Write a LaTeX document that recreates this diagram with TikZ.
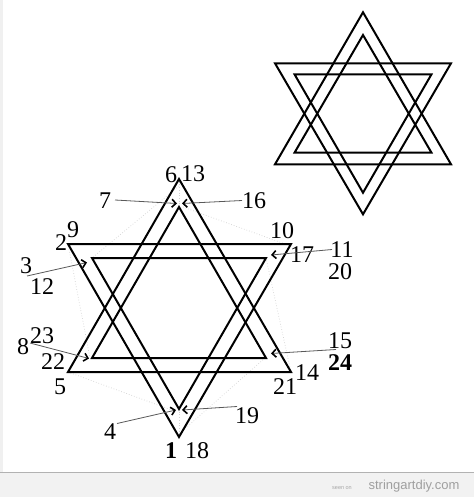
\documentclass[tikz,border=0pt]{standalone}
\usepackage{fontspec}
\setmainfont{Liberation Serif}
\newfontfamily\webfont{Liberation Sans}
\usetikzlibrary{arrows.meta}
\begin{document}
\begin{tikzpicture}[x=1pt,y=-1pt,
  starline/.style={line width=2pt,line join=miter},
  guide/.style={gray!35,dotted,line width=0.7pt},
  lbl/.style={inner sep=0pt,font=\fontsize{24}{24}\selectfont},
  pointer/.style={gray!70!black,line width=0.8pt,
    -{Straight Barb[color=black,length=4pt,width=8pt,line width=1.6pt]}}]
\useasboundingbox (0,0) rectangle (474,497);
\fill[white] (0,0) rectangle (474,497);
% page frame
\fill[gray!12] (0,0) rectangle (3,472);
\fill[gray!10] (0,472) rectangle (474,497);
\draw[gray!60,line width=1pt] (0,472) -- (474,472);
\node[inner sep=0pt,text=gray!70,font=\webfont\fontsize{5.5}{6}\selectfont] (seen) at (342,488) {seen on};
\node[inner sep=0pt,text=gray!75,font=\webfont\fontsize{13}{14}\selectfont] (site) at (414,486) {stringartdiy.com};
% small star (top right)
\draw[starline] (363,12.3) -- (451,164.3) -- (275,164.3) -- cycle;
\draw[starline] (363,35) -- (431.5,152.7) -- (294.5,152.7) -- cycle;
\draw[starline] (363,214.3) -- (451,63.3) -- (275,63.3) -- cycle;
\draw[starline] (363,192.7) -- (431.5,74.3) -- (294.5,74.3) -- cycle;
% guide lines of the large star
\draw[guide] (179,186) -- (92,258);
\draw[guide] (68,244) -- (90,358);
\draw[guide] (68,372) -- (177,412);
\draw[guide] (183,207) -- (285,244);
\draw[guide] (266,258) -- (291,372);
\draw[guide] (265,358) -- (180,433);
\draw[guide] (179,179) -- (179,207);
\draw[guide] (179,409) -- (179,437);
% large star
\draw[starline] (179,179) -- (291,372) -- (68,372) -- cycle;
\draw[starline] (179,207) -- (266,358) -- (92,358) -- cycle;
\draw[starline] (179,437) -- (291,244) -- (68,244) -- cycle;
\draw[starline] (179,409) -- (266,258) -- (92,258) -- cycle;
% labels
\node[lbl] (n6) at (171,175) {6};
\node[lbl] (n13) at (193,174) {13};
\node[lbl] (n7) at (105,201) {7};
\node[lbl] (n16) at (254,201) {16};
\node[lbl] (n2) at (61,243) {2};
\node[lbl] (n9) at (73,230) {9};
\node[lbl] (n3) at (26,266) {3};
\node[lbl] (n12) at (42,287) {12};
\node[lbl] (n10) at (282,231) {10};
\node[lbl] (n17) at (302,255) {17};
\node[lbl] (n11) at (342,250) {11};
\node[lbl] (n20) at (340,272) {20};
\node[lbl] (n8) at (23,347) {8};
\node[lbl] (n23) at (42,336) {23};
\node[lbl] (n22) at (53,362) {22};
\node[lbl] (n5) at (60,387) {5};
\node[lbl] (n15) at (340,341) {15};
\node[lbl,font=\fontsize{24}{24}\selectfont\bfseries] (n24) at (340,363) {24};
\node[lbl] (n14) at (307,373) {14};
\node[lbl] (n21) at (285,387) {21};
\node[lbl] (n4) at (110,432) {4};
\node[lbl,font=\fontsize{24}{24}\selectfont\bfseries] (n1) at (171,451) {1};
\node[lbl] (n18) at (197,451) {18};
\node[lbl] (n19) at (247,416) {19};
% pointer coordinates
\coordinate (s7) at (115,200);   \coordinate (t7) at (177,203.5);
\coordinate (s16) at (242,200.5); \coordinate (t16) at (182,203.5);
\coordinate (s3) at (27,276);    \coordinate (t3) at (87,262.5);
\coordinate (s11) at (332,249.5); \coordinate (t11) at (271,255);
\coordinate (s8) at (30,343);    \coordinate (t8) at (89,358.5);
\coordinate (s15) at (336,349.5); \coordinate (t15) at (271,353.5);
\coordinate (s4) at (117,423.5); \coordinate (t4) at (176,410);
\coordinate (s19) at (237,406.5); \coordinate (t19) at (182,410);
\draw[pointer] (s7) -- (t7);
\draw[pointer] (s16) -- (t16);
\draw[pointer] (s3) -- (t3);
\draw[pointer] (s11) -- (t11);
\draw[pointer] (s8) -- (t8);
\draw[pointer] (s15) -- (t15);
\draw[pointer] (s4) -- (t4);
\draw[pointer] (s19) -- (t19);
\end{tikzpicture}
\end{document}
